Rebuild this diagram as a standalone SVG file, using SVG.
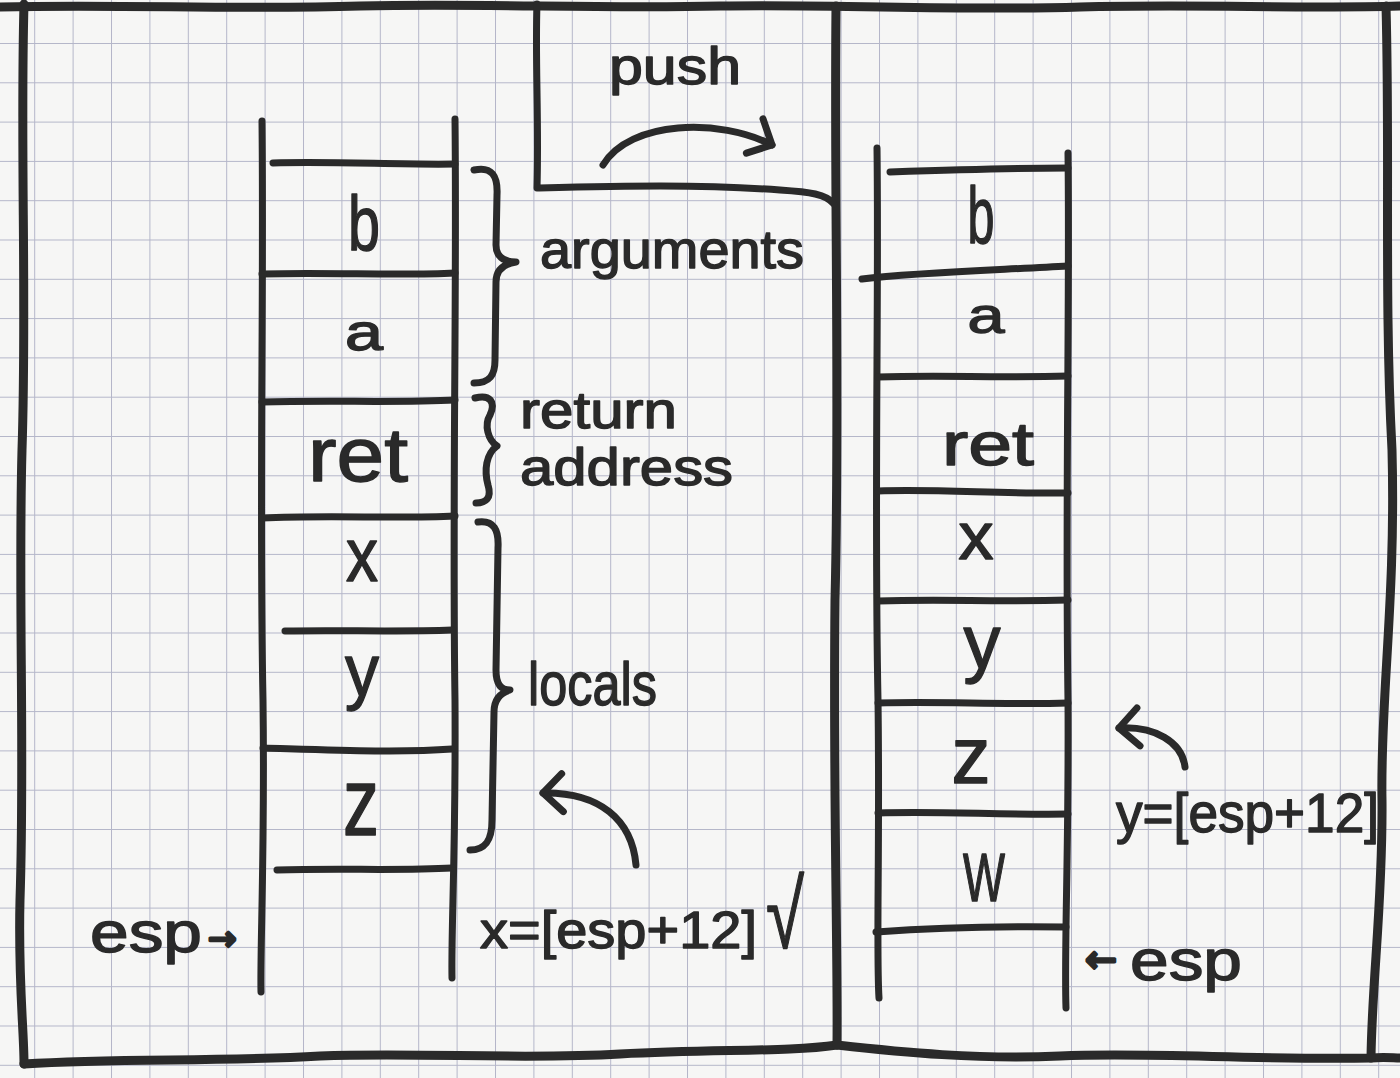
<svg xmlns="http://www.w3.org/2000/svg" width="1400" height="1078" viewBox="0 0 1400 1078">
<style>
.ink{fill:none;stroke:#2a2a2a;stroke-width:7;stroke-linecap:round;stroke-linejoin:round}
.frame{fill:none;stroke:#2a2a2a;stroke-width:9;stroke-linecap:round;stroke-linejoin:round}
.hand{font-family:"Liberation Sans","DejaVu Sans",sans-serif;fill:#2a2a2a;stroke:#2a2a2a;stroke-width:1.4;stroke-linejoin:round}
.arr{font-family:"DejaVu Sans",sans-serif;fill:#2a2a2a;stroke:#2a2a2a;stroke-width:3;stroke-linejoin:round}
.cell{text-anchor:middle}
</style>
<defs>
<pattern id="grid" x="34.2" y="3.7" width="38.4" height="39.3" patternUnits="userSpaceOnUse">
<path d="M0,0 V39.3 M0,0 H38.4" fill="none" stroke="#b4b6c9" stroke-width="2"/>
</pattern>
<marker id="chev" markerUnits="userSpaceOnUse" viewBox="-30 -25 40 50" markerWidth="40" markerHeight="50" refX="0" refY="0" orient="auto" overflow="visible">
<path d="M-20,-19 L0,0 L-19,19" fill="none" stroke="#2a2a2a" stroke-width="7" stroke-linecap="round" stroke-linejoin="round"/>
</marker>
</defs>
<rect width="1400" height="1078" fill="#f6f6f5"/>
<rect width="1400" height="1078" fill="url(#grid)"/>

<g id="frame">
<path class="frame" d="M0,7 C120,4 240,10 360,6 C480,3 600,9 720,6 C840,4 960,11 1080,7 C1200,4 1300,9 1400,6"/>
<path class="frame" d="M24,4 C20,150 27,300 22,450 C18,600 25,750 20,900 C18,980 24,1030 24,1064"/>
<path class="frame" d="M24,1064 C120,1058 220,1062 320,1056 C420,1052 520,1060 620,1054 C720,1049 790,1052 837,1045 C900,1052 980,1060 1060,1056 C1150,1052 1250,1060 1371,1058 C1385,1057 1393,1058 1400,1058"/>
<path class="frame" d="M1386,6 C1390,150 1384,300 1392,450 C1396,600 1380,700 1382,800 C1383,900 1372,980 1371,1058"/>
<path class="frame" d="M836,6 C834,200 840,400 835,600 C833,800 838,950 837,1045"/>
</g>

<g id="push-box">
<path class="ink" d="M537,4 C535,60 539,120 537,188 C620,186 700,184 780,190 C810,192 826,194 834,204"/>
<text class="hand" x="609" y="84" font-size="52" textLength="132" lengthAdjust="spacingAndGlyphs">push</text>
</g>

<g id="left-stack">
<path class="ink" d="M262,121 C264,300 259,500 263,700 C265,850 260,950 261,992"/>
<path class="ink" d="M455,119 C457,300 452,500 455,700 C456,850 451,930 452,978"/>
<path class="ink" d="M273,163 C330,161 400,165 455,164"/>
<path class="ink" d="M262,274 C330,272 400,276 455,273"/>
<path class="ink" d="M262,402 C330,400 400,403 455,400"/>
<path class="ink" d="M262,518 C330,515 400,519 455,516"/>
<path class="ink" d="M285,631 C340,630 400,632 452,630"/>
<path class="ink" d="M263,748 C330,750 400,753 452,749"/>
<path class="ink" d="M277,870 C340,868 400,871 452,868"/>
</g>
<g id="left-b"><text class="hand cell" x="364" y="251" font-size="78" textLength="32" lengthAdjust="spacingAndGlyphs">b</text></g>
<g id="left-a"><text class="hand cell" x="364" y="350" font-size="52" textLength="38" lengthAdjust="spacingAndGlyphs">a</text></g>
<g id="left-ret"><text class="hand cell" x="358" y="481" font-size="76" textLength="100" lengthAdjust="spacingAndGlyphs">ret</text></g>
<g id="left-x"><text class="hand cell" x="362" y="581" font-size="76" textLength="32" lengthAdjust="spacingAndGlyphs">x</text></g>
<g id="left-y"><text class="hand cell" x="362" y="696" font-size="74" textLength="34" lengthAdjust="spacingAndGlyphs">y</text></g>
<g id="left-z"><text class="hand cell" x="361" y="835" font-size="96" textLength="36" lengthAdjust="spacingAndGlyphs">z</text></g>

<g id="braces">
<path class="ink" d="M474,170 C492,166 498,176 497,195 L496,245 C496,256 503,262 516,262 C503,264 496,270 496,282 L495,360 C495,375 490,383 474,383"/>
<path class="ink" d="M475,398 C490,394 496,402 490,415 C484,425 488,440 497,446 C486,454 484,470 488,485 C492,498 486,503 476,503"/>
<path class="ink" d="M478,522 C494,520 499,530 498,548 L496,670 C496,683 500,690 510,690 C500,693 494,700 494,712 L492,820 C492,840 486,850 470,850"/>
</g>

<g id="labels">
<text class="hand" x="540" y="268" font-size="54" textLength="264" lengthAdjust="spacingAndGlyphs">arguments</text>
<text class="hand" x="520" y="428" font-size="52" textLength="157" lengthAdjust="spacingAndGlyphs">return</text>
<text class="hand" x="520" y="485" font-size="52" textLength="213" lengthAdjust="spacingAndGlyphs">address</text>
<text class="hand" x="528" y="705" font-size="62" textLength="129" lengthAdjust="spacingAndGlyphs">locals</text>
<text class="hand" x="480" y="948" font-size="52"><tspan textLength="277" lengthAdjust="spacingAndGlyphs">x=[esp+12]</tspan><tspan x="766" font-size="96" textLength="38" lengthAdjust="spacingAndGlyphs">√</tspan></text>
<text class="hand" x="90" y="952" font-size="58" textLength="112" lengthAdjust="spacingAndGlyphs">esp</text>
<text class="arr" x="208" y="950" font-size="34">→</text>
<text class="hand" x="1116" y="832" font-size="56" textLength="263" lengthAdjust="spacingAndGlyphs">y=[esp+12]</text>
<text class="arr" x="1085" y="972" font-size="38">←</text>
<text class="hand" x="1130" y="980" font-size="58" textLength="112" lengthAdjust="spacingAndGlyphs">esp</text>
</g>

<g id="right-stack">
<path class="ink" d="M877,148 C879,300 874,500 878,700 C880,850 876,950 879,998"/>
<path class="ink" d="M1068,153 C1070,300 1065,500 1068,700 C1069,850 1064,950 1066,1008"/>
<path class="ink" d="M890,172 C950,170 1010,168 1068,168"/>
<path class="ink" d="M862,279 C920,272 1000,270 1068,266"/>
<path class="ink" d="M878,377 C940,375 1000,378 1068,376"/>
<path class="ink" d="M878,491 C940,489 1000,494 1068,493"/>
<path class="ink" d="M878,601 C940,599 1000,602 1068,600"/>
<path class="ink" d="M878,703 C940,701 1000,705 1068,703"/>
<path class="ink" d="M878,813 C940,811 1000,815 1068,814"/>
<path class="ink" d="M876,932 C930,928 1000,926 1066,927"/>
</g>
<g id="right-b"><text class="hand cell" x="981" y="243" font-size="80" textLength="27" lengthAdjust="spacingAndGlyphs">b</text></g>
<g id="right-a"><text class="hand cell" x="986" y="333" font-size="50" textLength="37" lengthAdjust="spacingAndGlyphs">a</text></g>
<g id="right-ret"><text class="hand cell" x="988" y="465" font-size="62" textLength="92" lengthAdjust="spacingAndGlyphs">ret</text></g>
<g id="right-x"><text class="hand cell" x="976" y="559" font-size="66" textLength="35" lengthAdjust="spacingAndGlyphs">x</text></g>
<g id="right-y"><text class="hand cell" x="982" y="668" font-size="76" textLength="37" lengthAdjust="spacingAndGlyphs">y</text></g>
<g id="right-z"><text class="hand cell" x="971" y="783" font-size="80" textLength="39" lengthAdjust="spacingAndGlyphs">z</text></g>
<g id="right-w"><text class="hand cell" x="984" y="901" font-size="68" textLength="42" lengthAdjust="spacingAndGlyphs">W</text></g>

<g id="connectors">
<path class="ink" d="M603,165 C630,120 720,118 772,145" marker-end="url(#chev)"/>
<path class="ink" d="M636,865 C632,820 600,792 543,793" marker-end="url(#chev)"/>
<path class="ink" d="M1185,767 C1182,742 1155,726 1119,728" marker-end="url(#chev)"/>
</g>
</svg>
